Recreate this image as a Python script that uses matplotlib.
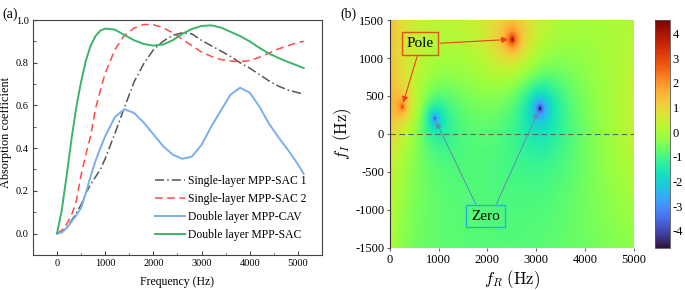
import numpy as np
import matplotlib
matplotlib.use("Agg")
import matplotlib.pyplot as plt

plt.rcParams['font.family'] = ['Liberation Serif', 'DejaVu Serif']
plt.rcParams['mathtext.fontset'] = 'cm'
plt.rcParams['axes.unicode_minus'] = False

# ---------------- data: panel (a) ----------------
freq = [0, 100, 200, 300, 400, 500, 600, 700, 800, 900, 1000,
        1200, 1400, 1600, 1800, 2000, 2200, 2400, 2600, 2800, 3000,
        3200, 3400, 3600, 3800, 4000, 4200, 4400, 4600, 4800, 5000, 5120]
sac1 = [0, 0.008, 0.03, 0.06, 0.095, 0.135, 0.19, 0.23, 0.265, 0.30, 0.35,
        0.468, 0.59, 0.71, 0.795, 0.86, 0.90, 0.928, 0.94, 0.935, 0.905,
        0.88, 0.855, 0.83, 0.80, 0.775, 0.745, 0.715, 0.69, 0.672, 0.66, 0.653]
sac2 = [0, 0.015, 0.045, 0.085, 0.15, 0.275, 0.37, 0.458, 0.585, 0.67, 0.75,
        0.86, 0.928, 0.962, 0.979, 0.978, 0.965, 0.94, 0.91, 0.88, 0.85,
        0.83, 0.815, 0.808, 0.805, 0.81, 0.825, 0.845, 0.865, 0.88, 0.895, 0.90]
cav = [0, 0.005, 0.025, 0.055, 0.085, 0.12, 0.19, 0.27, 0.34, 0.40, 0.455,
       0.545, 0.582, 0.565, 0.52, 0.465, 0.41, 0.37, 0.35, 0.36, 0.415,
       0.50, 0.575, 0.65, 0.683, 0.66, 0.595, 0.515, 0.45, 0.39, 0.325, 0.28]
dsac = [0, 0.11, 0.27, 0.44, 0.59, 0.71, 0.81, 0.88, 0.925, 0.95, 0.96,
        0.955, 0.93, 0.905, 0.888, 0.88, 0.885, 0.905, 0.935, 0.958, 0.972,
        0.975, 0.965, 0.945, 0.925, 0.90, 0.87, 0.843, 0.822, 0.803, 0.786, 0.775]
labels_a = ['Single-layer MPP-SAC 1', 'Single-layer MPP-SAC 2',
            'Double layer MPP-CAV', 'Double layer MPP-SAC']

# ---------------- data: panel (b) ----------------
pole_fr = [252, 2507]
pole_fi = [359, 1246]
pole_w = [0.7, 1.0]
zero_fr = [916, 3074]
zero_fi = [206, 338]
zero_w = [0.85, 1.0]
# off-chart poles shaping the background
far_fr = [5800, -600]
far_fi = [200, 1600]
far_w = [0.8, 0.5]
edge_gain = 0.8
edge_width = 250
level_at_ref = -1.3      # field value at fR=2700, fI=0
pole_label_xy = (620, 1190)
zero_label_xy = (1960, -1080)
cbar_ticks = [-4, -3, -2, -1, 0, 1, 2, 3, 4]

fig = plt.figure(figsize=(6.85, 2.9), dpi=100)

# ---------- (a) ----------
ax = fig.add_axes([0.048, 0.121, 0.422, 0.810])
ax.plot(freq, sac1, color='#555555', lw=1.1, ls=(0, (6, 2, 1, 2)), label=labels_a[0])
ax.plot(freq, sac2, color='#ff4a4a', lw=1.1, ls=(0, (5, 3)), label=labels_a[1])
ax.plot(freq, cav, color='#7aaef0', lw=1.4, label=labels_a[2])
ax.plot(freq, dsac, color='#3cb36a', lw=1.4, label=labels_a[3])
ax.set_xlim(-500, 5500)
ax.set_ylim(-0.1, 1.0)
ax.set_xticks([0, 1000, 2000, 3000, 4000, 5000])
ax.set_xticks(np.arange(-500, 5501, 500), minor=True)
ax.set_yticks([0.0, 0.2, 0.4, 0.6, 0.8, 1.0])
ax.set_yticks(np.arange(-0.1, 1.001, 0.1), minor=True)
ax.yaxis.set_major_formatter(matplotlib.ticker.FormatStrFormatter('%.1f'))
ax.tick_params(direction='in', labelsize=7.5, length=3, color='#444444', pad=3)
ax.tick_params(which='minor', direction='in', length=1.8, color='#444444')
for s in ax.spines.values():
    s.set_color('#444444')
ax.set_xlabel('Frequency (Hz)', fontsize=8.5, labelpad=6)
ax.set_ylabel('Absorption coefficient', fontsize=8.8)
ax.yaxis.set_label_coords(-0.072, 0.52)
ax.legend(loc='lower right', bbox_to_anchor=(0.975, 0.025), frameon=False,
          fontsize=8.4, handlelength=2.5, handletextpad=0.3, labelspacing=0.5,
          borderpad=0.2)
fig.text(0.003, 0.975, '(a)', fontsize=10, va='top', ha='left')

# ---------- (b) ----------
axb = fig.add_axes([0.569, 0.145, 0.356, 0.786])
fr = np.linspace(0, 5000, 700)
fi = np.linspace(-1500, 1500, 420)
FR, FI = np.meshgrid(fr, fi)
S = FR + 1j * FI
all_p = list(zip(pole_fr + far_fr, pole_fi + far_fi, pole_w + far_w))
all_z = list(zip(zero_fr, zero_fi, zero_w))


def logmag(s):
    out = 0.0
    for zr, zi, w in all_z:
        out = out + w * np.log(np.abs(s - (zr + 1j * zi)) + 1e-3)
    for pr, pi_, w in all_p:
        out = out - w * np.log(np.abs(s - (pr + 1j * pi_)) + 1e-3)
    return out


field = logmag(S) - logmag(2700 + 0j) + level_at_ref + edge_gain * np.exp(-FR / edge_width)
vmin, vmax = -4.7, 4.55
im = axb.imshow(np.clip(field, vmin, vmax), origin='lower', extent=[0, 5000, -1500, 1500],
                aspect='auto', cmap='turbo', vmin=vmin, vmax=vmax, interpolation='bilinear')
axb.axhline(0, color='#5a6a6a', lw=0.8, ls=(0, (5, 3)))
axb.set_xlim(0, 5000)
axb.set_ylim(-1500, 1500)
axb.set_xticks([0, 1000, 2000, 3000, 4000, 5000])
axb.set_yticks([-1500, -1000, -500, 0, 500, 1000, 1500])
axb.tick_params(labelsize=9, length=2, direction='out', color='#666666', pad=2)
for k, s in axb.spines.items():
    if k == 'left':
        s.set_color('#333333')
    else:
        s.set_visible(False)
axb.set_xlabel(r'$f_R\ (\mathrm{Hz})$', fontsize=12, labelpad=2)
axb.set_ylabel(r'$f_I\ (\mathrm{Hz})$', fontsize=12, labelpad=1)

# annotations
pole_kw = dict(arrowstyle='-|>,head_length=0.35,head_width=0.18', color='#f0401a', lw=0.8,
               shrinkA=0, shrinkB=3)
axb.annotate('', xy=(pole_fr[1], pole_fi[1]), xytext=(pole_label_xy[0] + 420, pole_label_xy[1] + 5),
             arrowprops=pole_kw)
axb.annotate('', xy=(pole_fr[0], pole_fi[0]), xytext=(pole_label_xy[0] - 60, pole_label_xy[1] - 170),
             arrowprops=pole_kw)
axb.text(pole_label_xy[0], pole_label_xy[1], 'Pole', fontsize=11, ha='center', va='center',
         bbox=dict(boxstyle='square,pad=0.32', fc='none', ec='#e8501a', lw=1.0))
zero_kw = dict(arrowstyle='-|>,head_length=0.35,head_width=0.18', color='#5f8fb0', lw=0.7,
               shrinkA=0, shrinkB=3)
axb.annotate('', xy=(zero_fr[0], zero_fi[0]), xytext=(zero_label_xy[0] - 200, zero_label_xy[1] + 160),
             arrowprops=zero_kw)
axb.annotate('', xy=(zero_fr[1], zero_fi[1]), xytext=(zero_label_xy[0] + 230, zero_label_xy[1] + 160),
             arrowprops=zero_kw)
axb.text(zero_label_xy[0], zero_label_xy[1], 'Zero', fontsize=11, ha='center', va='center',
         bbox=dict(boxstyle='square,pad=0.32', fc='none', ec='#2ab0d8', lw=1.0))
fig.text(0.497, 0.975, '(b)', fontsize=10, va='top', ha='left')

cax = fig.add_axes([0.956, 0.145, 0.0219, 0.786])
cb = fig.colorbar(im, cax=cax, ticks=cbar_ticks)
cb.ax.tick_params(labelsize=9, length=0, pad=2)
cb.outline.set_edgecolor('#555555')
cb.outline.set_linewidth(0.6)
cb.ax.set_yticklabels([str(t) for t in cbar_ticks])

fig.savefig('out.png', dpi=100)
